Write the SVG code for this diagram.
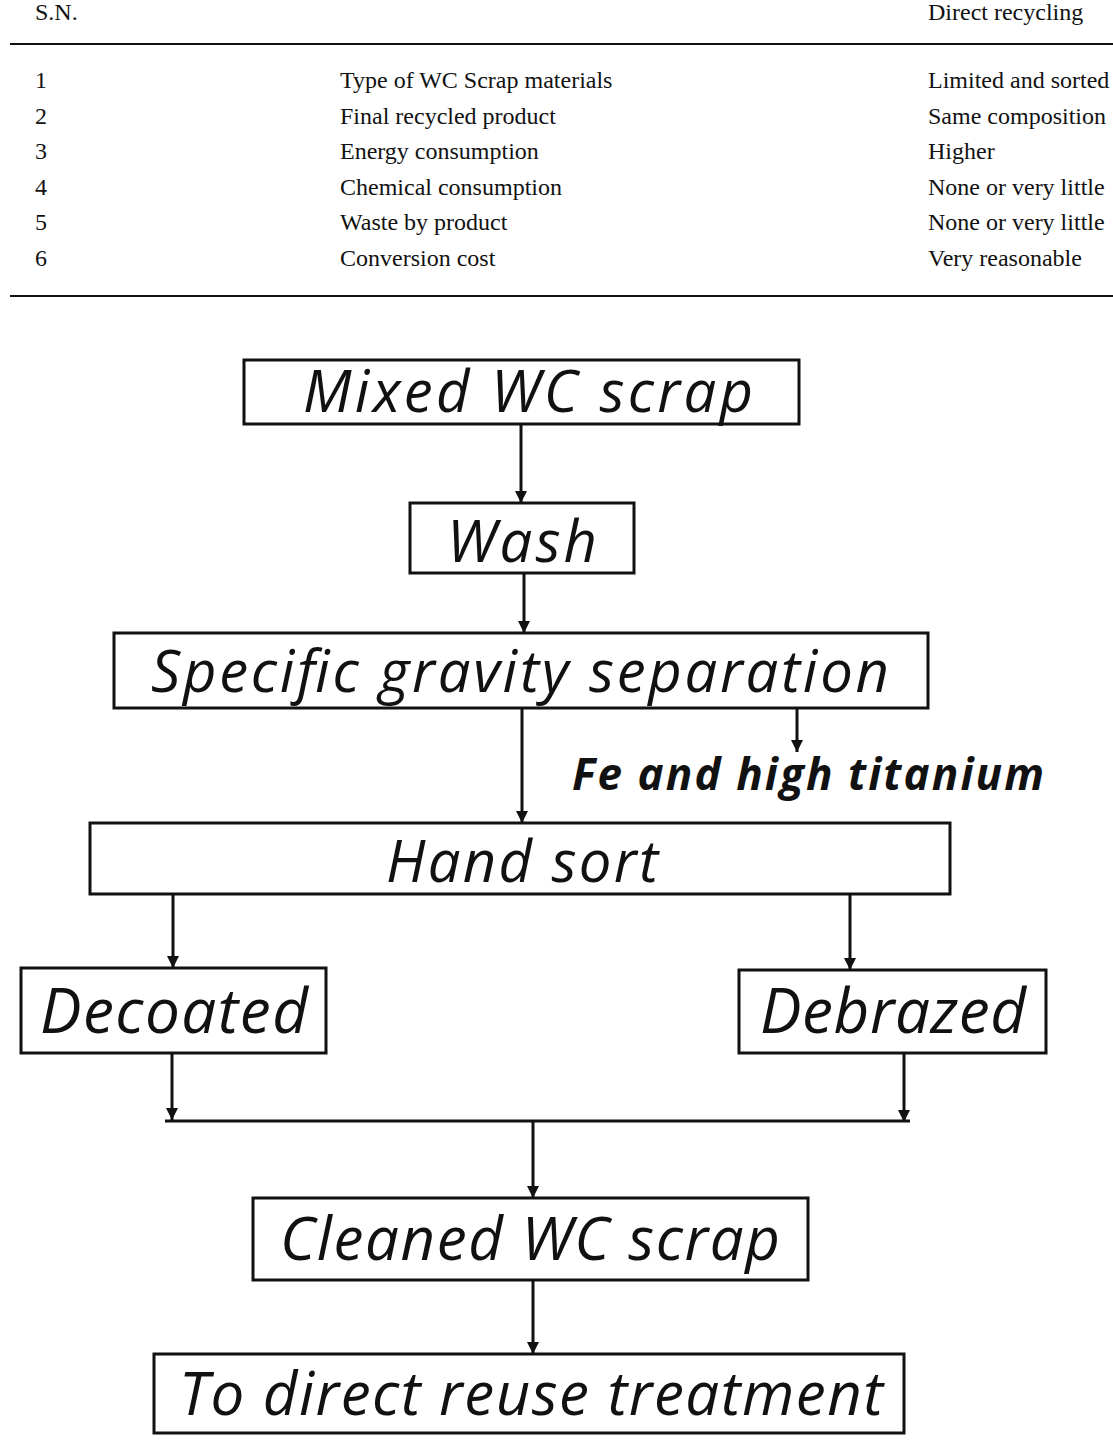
<svg xmlns="http://www.w3.org/2000/svg" width="1113" height="1455" viewBox="0 0 1113 1455">
<style>
.t{font-family:"Liberation Serif","DejaVu Serif",serif;font-size:24px;fill:#111}
.b rect{fill:#fff;stroke:#111;stroke-width:3}
.b text{font-family:"Open Sans","Liberation Sans",sans-serif;font-style:italic;fill:#111;text-anchor:middle}
.c line{stroke:#111;stroke-width:3}
</style>
<defs><marker id="a" viewBox="0 0 10 10" refX="10" refY="5" markerWidth="4" markerHeight="4" orient="auto"><path d="M0,0L10,5L0,10z" fill="#111"/></marker></defs>
<rect width="1113" height="1455" fill="#fff"/>
<g id="table">
<text class="t" x="35" y="20">S.N.</text>
<text class="t" x="928" y="20">Direct recycling</text>
<line x1="10" y1="44" x2="1113" y2="44" stroke="#111" stroke-width="2"/>
<text class="t" x="35" y="88">1</text><text class="t" x="340" y="88">Type of WC Scrap materials</text><text class="t" x="928" y="88">Limited and sorted</text>
<text class="t" x="35" y="124">2</text><text class="t" x="340" y="124">Final recycled product</text><text class="t" x="928" y="124">Same composition</text>
<text class="t" x="35" y="159">3</text><text class="t" x="340" y="159">Energy consumption</text><text class="t" x="928" y="159">Higher</text>
<text class="t" x="35" y="195">4</text><text class="t" x="340" y="195">Chemical consumption</text><text class="t" x="928" y="195">None or very little</text>
<text class="t" x="35" y="230">5</text><text class="t" x="340" y="230">Waste by product</text><text class="t" x="928" y="230">None or very little</text>
<text class="t" x="35" y="266">6</text><text class="t" x="340" y="266">Conversion cost</text><text class="t" x="928" y="266">Very reasonable</text>
<line x1="10" y1="296" x2="1113" y2="296" stroke="#111" stroke-width="2"/>
</g>
<g class="c" id="connectors">
<line x1="521" y1="424" x2="521" y2="503" marker-end="url(#a)"/>
<line x1="524" y1="573" x2="524" y2="633" marker-end="url(#a)"/>
<line x1="522" y1="708" x2="522" y2="823" marker-end="url(#a)"/>
<line x1="797" y1="708" x2="797" y2="752" marker-end="url(#a)"/>
<line x1="173" y1="894" x2="173" y2="968" marker-end="url(#a)"/>
<line x1="850" y1="894" x2="850" y2="970" marker-end="url(#a)"/>
<line x1="172" y1="1053" x2="172" y2="1120" marker-end="url(#a)"/>
<line x1="904" y1="1053" x2="904" y2="1122" marker-end="url(#a)"/>
<line x1="165" y1="1121" x2="910" y2="1121"/>
<line x1="533" y1="1121" x2="533" y2="1198" marker-end="url(#a)"/>
<line x1="533" y1="1280" x2="533" y2="1354" marker-end="url(#a)"/>
</g>
<g class="b" id="n1"><rect x="244" y="360" width="555" height="64"/><text x="528" y="412" font-size="58" textLength="450">Mixed WC scrap</text></g>
<g class="b" id="n2"><rect x="410" y="503" width="224" height="70"/><text x="522" y="562" font-size="58" textLength="150">Wash</text></g>
<g class="b" id="n3"><rect x="114" y="633" width="814" height="75"/><text x="520" y="692" font-size="58" textLength="738">Specific gravity separation</text></g>
<text x="572" y="790" font-family="Open Sans,Liberation Sans,sans-serif" font-style="italic" font-weight="bold" font-size="44" textLength="472" fill="#111">Fe and high titanium</text>
<g class="b" id="n4"><rect x="90" y="823" width="860" height="71"/><text x="522" y="882" font-size="58" textLength="272">Hand sort</text></g>
<g class="b" id="n5"><rect x="21" y="968" width="305" height="85"/><text x="174" y="1033" font-size="62" textLength="268">Decoated</text></g>
<g class="b" id="n6"><rect x="739" y="970" width="307" height="83"/><text x="893" y="1033" font-size="62" textLength="266">Debrazed</text></g>
<g class="b" id="n7"><rect x="253" y="1198" width="555" height="82"/><text x="530" y="1260" font-size="60" textLength="500">Cleaned WC scrap</text></g>
<g class="b" id="n8"><rect x="154" y="1354" width="750" height="79"/><text x="531" y="1415" font-size="60" textLength="704">To direct reuse treatment</text></g>
</svg>
